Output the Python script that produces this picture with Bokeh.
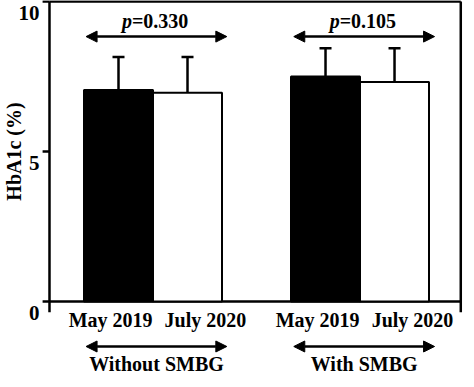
from bokeh.plotting import figure
from bokeh.models import Range1d, Whisker, ColumnDataSource, Arrow, NormalHead, TeeHead
from bokeh.embed import file_html
from bokeh.resources import INLINE
from bokeh.core.properties import value

# ---- data ----
periods = ["May 2019", "July 2020", "May 2019", "July 2020"]
groups = ["Without SMBG", "With SMBG"]
hba1c_mean = [7.05, 6.96, 7.50, 7.32]
hba1c_sd = [1.10, 1.19, 0.94, 1.12]
p_values = ["=0.330", "=0.105"]
y_ticks = [0, 5, 10]
y_tick_labels = ["0", "5", "10"]
y_title = "HbA1c (%)"

# ---- layout helpers (positions / styles) ----
bar_x = [1, 2, 4, 5]
fills = ["black", "white", "black", "white"]
label_shift = [-0.115, 0.26, -0.115, 0.26]
label_pos = [b + s for b, s in zip(bar_x, label_shift)]
group_center = [1.55, 4.56]
arrow_half = 1.02
x_right = 5.96
y_top = 10
FONT = "Liberation Serif"
LW = 2.5

p = figure(width=466, height=379, x_range=Range1d(-0.71, 6.043), y_range=Range1d(-2.6, 10.033),
           output_backend="svg", toolbar_location=None, x_axis_type=None, y_axis_type=None,
           min_border_left=0, min_border_right=0, min_border_top=0, min_border_bottom=0)
p.grid.visible = False
p.outline_line_color = None
p.background_fill_color = "white"
p.border_fill_color = "white"

# frame / axes lines
p.segment(x0=[0, 0, 0, x_right], y0=[-0.36, 0, y_top, -0.36],
          x1=[0, x_right, x_right, x_right], y1=[y_top, 0, y_top, y_top],
          line_color="black", line_width=LW)
# y ticks
p.segment(x0=[-0.1] * len(y_ticks), y0=y_ticks, x1=[0] * len(y_ticks), y1=y_ticks,
          line_color="black", line_width=LW)
p.text(x=[-0.145] * len(y_ticks), y=[t - 0.37 for t in y_ticks], text=y_tick_labels,
       text_align="right", text_baseline="middle", text_font=value(FONT),
       text_font_style="bold", text_font_size="21px", text_color="black")
p.text(x=[-0.52], y=[y_top / 2], text=[y_title], angle=1.5707963, text_align="center",
       text_baseline="middle", text_font=value(FONT), text_font_style="bold",
       text_font_size="20px", text_color="black")

# bars + error bars
src = ColumnDataSource(dict(x=bar_x, top=hba1c_mean, fill=fills,
                            upper=[m + s for m, s in zip(hba1c_mean, hba1c_sd)]))
p.add_layout(Whisker(base="x", lower="top", upper="upper", source=src, line_width=LW,
                     line_color="black",
                     upper_head=TeeHead(size=12, line_width=LW, line_color="black"),
                     lower_head=None))
p.vbar(x="x", top="top", bottom=0, width=1.0, fill_color="fill", line_color="black",
       line_width=2, source=src)

# category labels below axis
p.text(x=label_pos, y=[-0.633] * len(periods), text=periods, text_align="center",
       text_baseline="middle", text_font=value(FONT), text_font_style="bold",
       text_font_size="20px", text_color="black")
p.text(x=group_center, y=[-2.067] * len(groups), text=groups, text_align="center",
       text_baseline="middle", text_font=value(FONT), text_font_style="bold",
       text_font_size="20px", text_color="black")

# arrows
for c in group_center:
    for y in (8.83, -1.5):
        p.add_layout(Arrow(x_start=c - arrow_half, y_start=y, x_end=c + arrow_half, y_end=y,
                           line_width=LW, line_color="black",
                           start=NormalHead(size=11, fill_color="black", line_color="black"),
                           end=NormalHead(size=11, fill_color="black", line_color="black")))

# p-values
px = [c - 0.355 for c in group_center]
p.text(x=px, y=[9.35, 9.35], text=["p", "p"], text_align="right", text_baseline="middle",
       text_font=value(FONT), text_font_style="bold italic", text_font_size="20px",
       text_color="black")
p.text(x=px, y=[9.35, 9.35], text=p_values, text_align="left", text_baseline="middle",
       text_font=value(FONT), text_font_style="bold", text_font_size="20px",
       text_color="black")

open("out.html", "w").write(file_html(p, INLINE))
